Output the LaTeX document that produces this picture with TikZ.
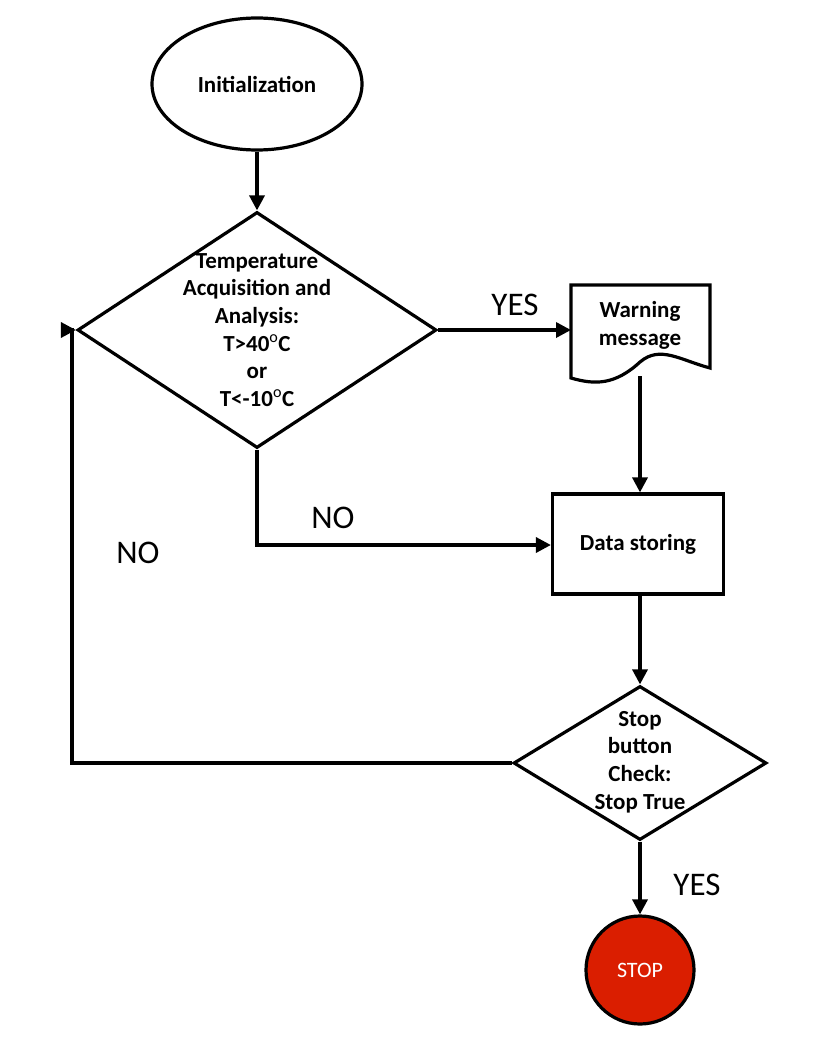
\documentclass[tikz,border=0pt]{standalone}
\usepackage{fontspec}
\setmainfont{Carlito}
\usetikzlibrary{shapes.geometric,arrows.meta}
\tikzset{
  line/.style={line width=3.4pt,-{Triangle[length=15pt,width=15pt]}},
  box/.style={draw,line width=3.2pt,align=center,font=\fontsize{23}{28}\selectfont\bfseries},
  lbl/.style={font=\fontsize{33}{38}\selectfont}
}
\begin{document}
\begin{tikzpicture}[x=1pt,y=-1pt]
\useasboundingbox (0,0) rectangle (820,1046);
\node[box,ellipse,minimum width=210pt,minimum height=132pt] (init) at (257,84) {Initialization};
\node[box,diamond,minimum width=359pt,minimum height=236pt,inner sep=0pt] (temp) at (257,330) {};
\node[align=center,font=\fontsize{23}{27.6}\selectfont\bfseries] (ttext) at (257,330) {Temperature\\Acquisition and\\Analysis:\\T>40$^{\mathrm{o}}$C\\or\\T<-10$^{\mathrm{o}}$C};
\draw[line width=3.2pt] (571,285) -- (710,285) -- (710,368)
  .. controls (680,360) and (660,345) .. (640,362)
  .. controls (615,385) and (595,385) .. (571,378) -- cycle;
\node[align=center,font=\fontsize{23}{28}\selectfont\bfseries] (warn) at (640,325) {Warning\\message};
\coordinate (wtop) at (571,330);
\coordinate (wbot) at (640,376);
\node[box,minimum width=171pt,minimum height=100pt] (data) at (638,544) {Data storing};
\node[box,diamond,minimum width=253pt,minimum height=154pt,inner sep=0pt] (stopc) at (640,763) {};
\node[align=center,font=\fontsize{23}{27.7}\selectfont\bfseries] (stext) at (640,762) {Stop\\button\\Check:\\Stop True};
\node[draw,circle,line width=3.2pt,fill={rgb,255:red,218;green,30;blue,0},minimum size=108pt,text=white,font=\fontsize{22}{26}\selectfont] (stop) at (640,970) {STOP};
\coordinate (c1) at (257,545);
\coordinate (c2) at (72,763);
\coordinate (c3) at (72,330);
\draw[line] (init) -- (temp.north);
\draw[line] (temp.east) -- (wtop);
\draw[line] (wbot) -- (data.north -| wbot);
\draw[line] (temp.south) -- (c1) -- (data.west |- c1);
\draw[line] (data.south -| stopc.north) -- (stopc.north);
\draw[line] (stopc.west) -- (c2) -- (c3) -- (temp.west);
\draw[line] (stopc.south) -- (stop.north);
\node[lbl] (yes1) at (515,305) {YES};
\node[lbl] (no1) at (333,518) {NO};
\node[lbl] (no2) at (138,553) {NO};
\node[lbl] (yes2) at (697,885) {YES};
\end{tikzpicture}
\end{document}
